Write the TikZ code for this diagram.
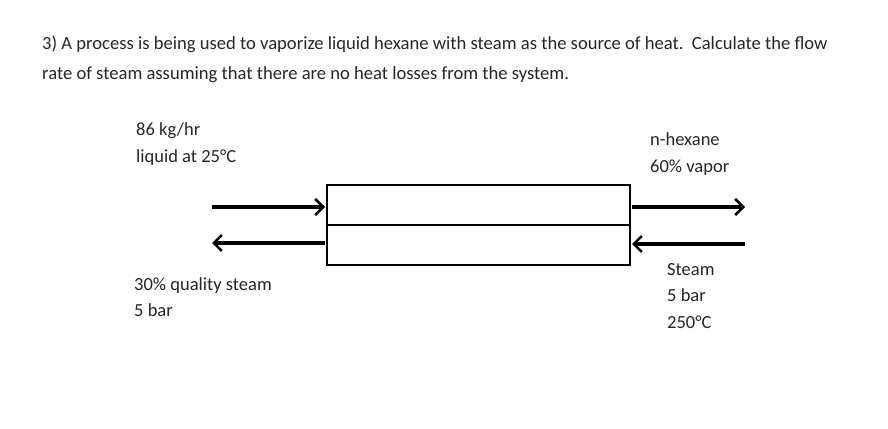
\documentclass[tikz,border=0pt]{standalone}
\usepackage{fontspec}
\setmainfont{Carlito}
\usetikzlibrary{arrows.meta}
\begin{document}
\begin{tikzpicture}[x=1pt,y=-1pt,
  lbl/.style={anchor=base west,inner sep=0pt,font=\fontsize{18.5}{22}\selectfont,text=black!85},
  flow/.style={line width=3.5pt,-{Straight Barb[length=8pt,width=16pt,line width=2.5pt]}}]
\useasboundingbox (0,0) rectangle (888,428);
\node[lbl,font=\fontsize{18.6}{22}\selectfont] (t1) at (42,49) {3) A process is being used to vaporize liquid hexane with steam as the source of heat.\ \ Calculate the flow};
\node[lbl,font=\fontsize{18.6}{22}\selectfont] (t2) at (42,79) {rate of steam assuming that there are no heat losses from the system.};
\draw[line width=2pt] (327,185) rectangle (630,265);
\draw[line width=2pt] (327,225) -- (630,225);
\coordinate (a1) at (212,207); \coordinate (a2) at (325,207);
\coordinate (b1) at (325,243); \coordinate (b2) at (212,243);
\coordinate (c1) at (632,207); \coordinate (c2) at (745,207);
\coordinate (d1) at (745,244); \coordinate (d2) at (632,244);
\draw[flow] (a1) -- (a2);
\draw[flow] (b1) -- (b2);
\draw[flow] (c1) -- (c2);
\draw[flow] (d1) -- (d2);
\node[lbl] (l1) at (136,135) {86 kg/hr};
\node[lbl] (l2) at (136,162) {liquid at 25°C};
\node[lbl] (r1) at (650,145) {n-hexane};
\node[lbl] (r2) at (650,172) {60\% vapor};
\node[lbl] (s1) at (134,290) {30\% quality steam};
\node[lbl] (s2) at (134,316) {5 bar};
\node[lbl] (q1) at (667,275) {Steam};
\node[lbl] (q2) at (667,301) {5 bar};
\node[lbl] (q3) at (667,328) {250°C};
\end{tikzpicture}
\end{document}
